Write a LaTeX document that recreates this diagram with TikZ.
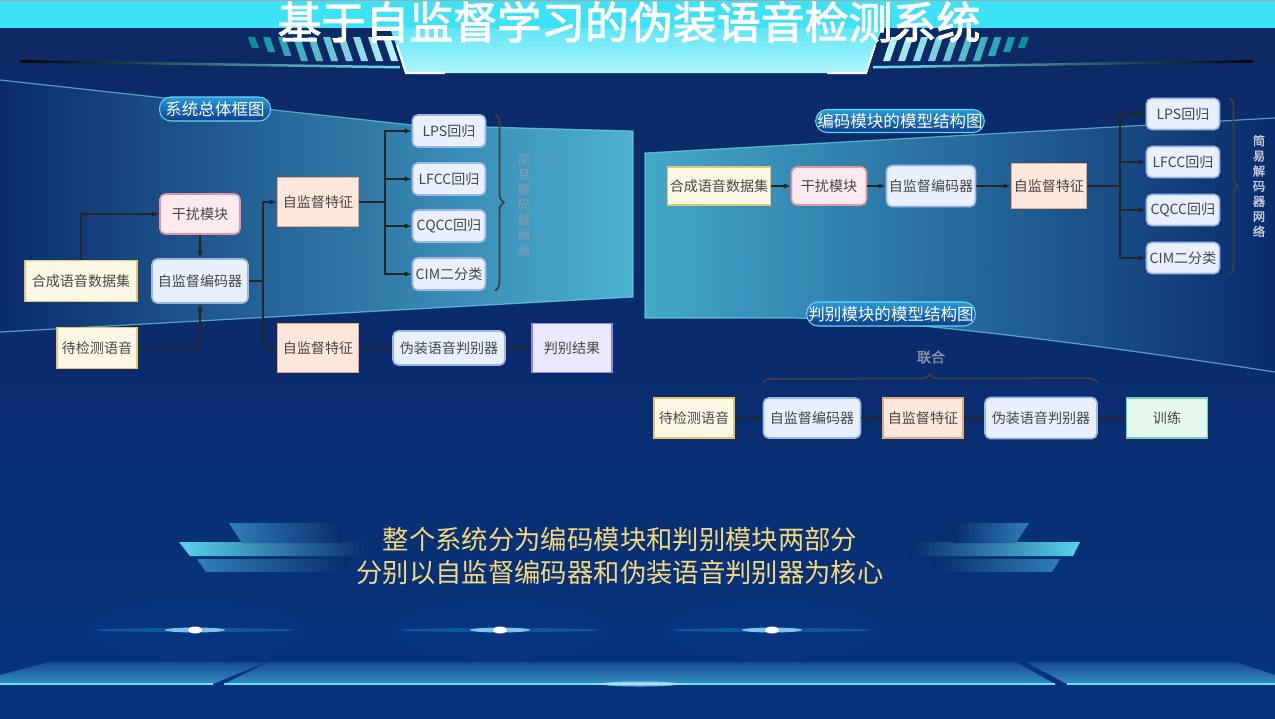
\documentclass[tikz,border=0pt]{standalone}
\usepackage{fontspec}
\setmainfont{Noto Sans CJK SC}
\newfontfamily\titlefont[FakeBold=2.5]{Noto Sans CJK SC}
\newfontfamily\boldcjk[FakeBold=1.5]{Noto Sans CJK SC}
\usetikzlibrary{arrows.meta,decorations.pathreplacing}
\definecolor{bgtop}{HTML}{0D2A66}
\definecolor{bgmid}{HTML}{0A2C6E}
\definecolor{bgbot}{HTML}{05347F}
\definecolor{bandc}{HTML}{3CE2F5}
\definecolor{trapt}{HTML}{5EE6F7}
\definecolor{trapb}{HTML}{B0F5FC}
\definecolor{linec}{HTML}{6FE0F5}
\definecolor{stt}{HTML}{0A8F9E}
\definecolor{stc}{HTML}{1ED8F0}
\definecolor{stl}{HTML}{B8F4FC}
\definecolor{panc}{HTML}{52BEDB}
\definecolor{panc2}{HTML}{48B4D4}
\definecolor{edgec}{HTML}{7FE0F5}
\definecolor{labtop}{HTML}{2A9AD8}
\definecolor{labbot}{HTML}{0B3D8C}
\definecolor{labline}{HTML}{63D6F5}
\definecolor{datafill}{HTML}{FDF8E6}
\definecolor{dataline}{HTML}{E8C46A}
\definecolor{pertfill}{HTML}{FDEAEE}
\definecolor{pertline}{HTML}{E8949E}
\definecolor{encfill}{HTML}{E8F0FD}
\definecolor{encline}{HTML}{9DB8E6}
\definecolor{featfill}{HTML}{FDE7DB}
\definecolor{featline}{HTML}{EBA77D}
\definecolor{resfill}{HTML}{EBE8FD}
\definecolor{resline}{HTML}{8C86E4}
\definecolor{trnfill}{HTML}{E6F8EE}
\definecolor{trnline}{HTML}{6CD4AC}
\definecolor{vgray}{HTML}{8E9AB0}
\definecolor{vlight}{HTML}{C5CDDB}
\definecolor{goldc}{HTML}{F7D879}
\definecolor{unic}{HTML}{8A94A8}
\definecolor{barc}{HTML}{5AD4EC}
\definecolor{bardk}{HTML}{2F7FB8}
\definecolor{platt}{HTML}{1B4F98}
\definecolor{platb}{HTML}{3FA8D4}
\begin{document}
\begin{tikzpicture}[x=0.02cm,y=-0.02cm,
    box/.style={rectangle,line width=0.9pt,text=black!72,font=\fontsize{8}{9}\selectfont,inner sep=1pt},
    sz/.style 2 args={minimum width=#1,minimum height=#2},
    data/.style={box,fill=datafill,draw=dataline},
    pert/.style={box,fill=pertfill,draw=pertline,rounded corners=3pt},
    enc/.style={box,fill=encfill,draw=encline,rounded corners=3pt},
    feat/.style={box,fill=featfill,draw=featline},
    res/.style={box,fill=resfill,draw=resline},
    trn/.style={box,fill=trnfill,draw=trnline},
    lab/.style={rectangle,rounded corners=6.5pt,draw=labline,line width=0.6pt,top color=labtop,bottom color=labbot,text=white,font=\fontsize{9.4}{10}\selectfont,inner sep=1pt},
    arr/.style={-{Latex[length=4pt,width=3.2pt]},line width=0.8pt,draw=black!85},
    ln/.style={line width=0.8pt,draw=black!85},
    brc/.style={decorate,decoration={brace,amplitude=5pt},line width=1pt,draw=black!75},
    vtxt/.style={align=center,font=\fontsize{7}{8.6}\selectfont,inner sep=0pt}
  ]
  \useasboundingbox (0,0) rectangle (1275,718);
  % background
  \shade[top color=bgtop,bottom color=bgbot,middle color=bgmid] (0,0) rectangle (1275,718);

  % title bar
  \fill[bandc] (0,0) rectangle (1275,28);
  \draw[gray!70,line width=1pt] (0,0.5) -- (1275,0.5);
  \shade[top color=trapt,bottom color=trapb] (390,28) -- (882,28) -- (866,73) -- (406,73) -- cycle;
  \draw[white,line width=1.2pt] (397,45) -- (406,73) -- (445,73);
  \draw[white,line width=1.2pt] (875,45) -- (866,73) -- (827,73);
  \foreach \i in {0,...,9}{
    \pgfmathtruncatemacro\p{\i*11}
    \pgfmathsetmacro\xa{248+\i*15}
    \pgfmathsetmacro\yb{\i<3 ? 48+\i*4 : 61}
    \fill[stl!\p!stt] (\xa,37) -- (\xa+7,37) -- (\xa+7+0.33*\yb-12,\yb) -- (\xa+0.33*\yb-12,\yb) -- cycle;
    \pgfmathsetmacro\xb{1018-\i*15}
    \fill[stl!\p!stt] (\xb+0.33*\yb-12,37) -- (\xb+7+0.33*\yb-12,37) -- (\xb+7,\yb) -- (\xb,\yb) -- cycle;
  }
  \shade[left color=black,right color=linec] (20,60) -- (400,66) -- (400,68.5) -- (20,62.5) -- cycle;
  \shade[left color=linec,right color=black] (873,66) -- (1253,60) -- (1253,62.5) -- (873,68.5) -- cycle;
  \node[font=\titlefont\fontsize{25}{27}\selectfont,text=white] (ttl) at (629,22) {基于自监督学习的伪装语音检测系统};

  % panels
  \shade[left color=bgmid,right color=panc,fill opacity=0.92] (0,80) -- (412,125) -- (633,131) -- (633,297) -- (0,332) -- cycle;
  \draw[edgec,opacity=0.6,line width=0.7pt] (0,80) -- (412,125) -- (633,131) -- (633,297) -- (0,332);
  \shade[left color=panc2,right color=bgmid,fill opacity=0.92] (645,153) -- (1275,118) -- (1275,372) .. controls (1000,330) and (860,318) .. (783,318) -- (645,318) -- cycle;
  \draw[edgec,opacity=0.6,line width=0.7pt] (1275,118) -- (645,153) -- (645,318) -- (783,318) .. controls (860,318) and (1000,330) .. (1275,372);

  % system overview
  \node[lab,sz={2.22cm}{0.48cm}] (l1) at (215,109) {系统总体框图};
  \node[data,sz={2.24cm}{0.82cm}] (ds) at (81,281) {合成语音数据集};
  \node[pert,sz={1.6cm}{0.8cm}] (pt) at (200,214) {干扰模块};
  \node[enc,sz={1.92cm}{0.88cm}] (ec) at (200,281) {自监督编码器};
  \node[data,sz={1.6cm}{0.82cm}] (dt) at (97,348) {待检测语音};
  \node[feat,sz={1.62cm}{0.98cm}] (fa) at (318,202) {自监督特征};
  \node[feat,sz={1.62cm}{0.98cm}] (fb) at (318,348) {自监督特征};
  \node[enc,sz={1.46cm}{0.64cm}] (lps) at (449,131) {LPS回归};
  \node[enc,sz={1.46cm}{0.64cm}] (lfcc) at (449,179) {LFCC回归};
  \node[enc,sz={1.46cm}{0.64cm}] (cqcc) at (449,226) {CQCC回归};
  \node[enc,sz={1.46cm}{0.64cm}] (cim) at (449,274) {CIM二分类};
  \node[enc,sz={2.24cm}{0.68cm}] (dc) at (449,348) {伪装语音判别器};
  \node[res,sz={1.6cm}{0.98cm}] (jr) at (572,348) {判别结果};
  \coordinate (b1) at (263,281);
  \coordinate (b2) at (385,202);
  \draw[arr] (ds.north) |- (pt.west);
  \draw[arr] (pt) -- (ec);
  \draw[arr] (dt.east) -| (ec.south);
  \draw[ln] (ec.east) -- (b1);
  \draw[arr] (b1) |- (fa.west);
  \draw[arr] (b1) |- (fb.west);
  \draw[ln] (fa.east) -- (b2);
  \foreach \n in {lps,lfcc,cqcc,cim} \draw[arr] (b2) |- (\n.west);
  \draw[arr] (fb) -- (dc);
  \draw[arr] (dc) -- (jr);
  \draw[brc] ([xshift=5pt]lps.north east) -- ([xshift=5pt]cim.south east);
  \node[vtxt,text=vgray] (nt1) at (524,205) {简\\易\\解\\码\\器\\网\\络};

  % encoder module
  \node[lab,sz={3.2cm}{0.46cm}] (l2) at (900,121) {编码模块的模型结构图};
  \node[data,sz={2.06cm}{0.76cm}] (ds2) at (719,186) {合成语音数据集};
  \node[pert,sz={1.5cm}{0.76cm}] (pt2) at (829,186) {干扰模块};
  \node[enc,sz={1.78cm}{0.82cm}] (ec2) at (931,186) {自监督编码器};
  \node[feat,sz={1.5cm}{0.9cm}] (fa2) at (1049,186) {自监督特征};
  \node[enc,sz={1.46cm}{0.62cm}] (lps2) at (1183,114) {LPS回归};
  \node[enc,sz={1.46cm}{0.62cm}] (lfcc2) at (1183,162) {LFCC回归};
  \node[enc,sz={1.46cm}{0.62cm}] (cqcc2) at (1183,210) {CQCC回归};
  \node[enc,sz={1.46cm}{0.62cm}] (cim2) at (1183,258) {CIM二分类};
  \coordinate (b3) at (1120,186);
  \draw[arr] (ds2) -- (pt2);
  \draw[arr] (pt2) -- (ec2);
  \draw[arr] (ec2) -- (fa2);
  \draw[ln] (fa2) -- (b3);
  \foreach \n in {lps2,lfcc2,cqcc2,cim2} \draw[arr] (b3) |- (\n.west);
  \draw[brc] ([xshift=5pt]lps2.north east) -- ([xshift=5pt]cim2.south east);
  \node[vtxt,text=vlight,font=\boldcjk\fontsize{7}{8.6}\selectfont] (nt2) at (1259,186) {简\\易\\解\\码\\器\\网\\络};

  % discriminator module
  \node[lab,sz={3.06cm}{0.48cm}] (l3) at (891,314) {判别模块的模型结构图};
  \node[data,sz={1.6cm}{0.8cm}] (dt3) at (694,418) {待检测语音};
  \node[enc,sz={1.94cm}{0.8cm}] (ec3) at (812,418) {自监督编码器};
  \node[feat,sz={1.6cm}{0.8cm}] (fa3) at (923,418) {自监督特征};
  \node[enc,sz={2.24cm}{0.82cm}] (dc3) at (1041,418) {伪装语音判别器};
  \node[trn,sz={1.62cm}{0.8cm}] (tr) at (1167,418) {训练};
  \draw[arr] (dt3) -- (ec3);
  \draw[arr] (ec3) -- (fa3);
  \draw[arr] (fa3) -- (dc3);
  \draw[arr] (dc3) -- (tr);
  \draw[brc] ([yshift=8pt]ec3.north west) -- ([yshift=8pt]dc3.north east);
  \node[text=unic,font=\boldcjk\fontsize{8}{9}\selectfont] (uni) at (931,357) {联合};

  % summary
  \shade[left color=barc,right color=bgmid] (179,542) -- (366,542) -- (366,556) -- (190,556) -- cycle;
  \shade[left color=bardk,right color=bgmid] (229,523) -- (342,523) -- (342,543) -- (242,543) -- cycle;
  \shade[left color=bardk,right color=bgmid] (197,559) -- (348,559) -- (348,572) -- (206,572) -- cycle;
  \shade[left color=bgmid,right color=barc] (911,542) -- (1080,542) -- (1073,556) -- (911,556) -- cycle;
  \shade[left color=bgmid,right color=bardk] (953,523) -- (1029,523) -- (1016,543) -- (953,543) -- cycle;
  \shade[left color=bgmid,right color=bardk] (932,559) -- (1060,559) -- (1052,572) -- (932,572) -- cycle;
  \node[align=center,text=goldc,font=\fontsize{15}{19}\selectfont] (sum) at (620,556) {整个系统分为编码模块和判别模块两部分\\分别以自监督编码器和伪装语音判别器为核心};

  % floor
  \foreach \x in {195,500,772}{
    \fill[cyan!40!blue,opacity=0.05] (\x,630) ellipse (2.2cm and 0.6cm);
    \fill[cyan!60!blue,opacity=0.5] (\x,630) ellipse (2cm and 0.04cm);
    \fill[cyan!40!white,opacity=0.8] (\x,630) ellipse (0.6cm and 0.05cm);
    \fill[white] (\x,630) ellipse (0.14cm and 0.07cm);
  }
  \shade[top color=platt,bottom color=platb,fill opacity=0.8] (0,684) -- (213,684) -- (266,662) -- (49,662) -- (0,675) -- cycle;
  \shade[top color=platt,bottom color=platb,fill opacity=0.8] (224,684) -- (1055,684) -- (1016,662) -- (268,662) -- cycle;
  \shade[top color=platt,bottom color=platb,fill opacity=0.8] (1067,684) -- (1275,684) -- (1275,675) -- (1236,662) -- (1026,662) -- cycle;
  \draw[linec,line width=1.2pt] (0,684) -- (213,684) (224,684) -- (1055,684) (1067,684) -- (1275,684);
  \fill[cyan!30!white,opacity=0.7] (640,684) ellipse (0.8cm and 0.05cm);
\end{tikzpicture}
\end{document}
